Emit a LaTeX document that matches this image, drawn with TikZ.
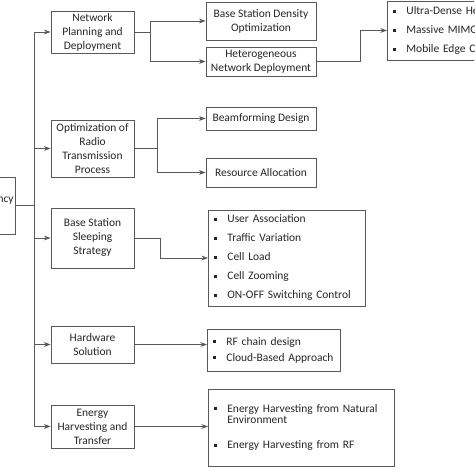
\documentclass[tikz,border=0pt]{standalone}
\usepackage{fontspec}
\setmainfont{Carlito}
\usepackage{tikz}
\usetikzlibrary{arrows.meta}
\colorlet{boxgray}{black!65}
\colorlet{textgray}{black!85}
\newcommand{\sqbul}{\makebox[10.5pt][l]{\hspace{0.4pt}\raisebox{0.35ex}{\rule{2.1pt}{2.1pt}}}}
\newcommand{\listfont}[1]{\fontsize{8.6}{#1}\selectfont}

\begin{document}
\begin{tikzpicture}[x=0.75pt,y=-0.75pt,
    every node/.style={text=textgray},
    catbox/.style={draw=boxgray, line width=0.6pt, align=center, minimum width=62.25pt,
        inner sep=1pt, font=\fontsize{8.6}{10.5}\selectfont},
    subbox/.style={draw=boxgray, line width=0.6pt, align=center, minimum width=82.5pt,
        inner sep=1pt, font=\fontsize{8.6}{10.5}\selectfont},
    listbox/.style={draw=boxgray, line width=0.6pt, align=left, anchor=west,
        inner xsep=3.75pt, inner ysep=0pt},
    link/.style={draw=boxgray, line width=0.6pt},
    arr/.style={link, -{Stealth[length=5pt,width=3.6pt]}}]
            \useasboundingbox (0,0) rectangle (474,474);
            \clip (0,0) rectangle (474,474);
            % root
            \node[catbox, anchor=east, text width=72pt, align=right, minimum height=42.75pt, inner xsep=1.5pt]
                (root) at (16,205.5) {Energy Efficiency\\ \mbox{}};
            % first level
            \node[catbox, minimum height=31.5pt] (netplan) at (92.5,32) {Network\\Planning and\\Deployment};
            \node[catbox, minimum height=42.75pt] (radio) at (92.5,148.5) {Optimization of\\Radio\\Transmission\\Process};
            \node[catbox, minimum height=45pt] (sleep) at (92.5,238) {Base Station\\Sleeping\\Strategy};
            \node[catbox, minimum height=27.75pt] (hardware) at (92.5,344.5) {Hardware\\Solution};
            \node[catbox, minimum height=32.25pt] (harvest) at (92.5,426.5) {Energy\\Harvesting and\\Transfer};
            % second level
            \node[subbox, minimum height=28.5pt] (density) at (261,21) {Base Station Density\\Optimization};
            \node[subbox, minimum height=21.75pt] (hetnet) at (261,61.5) {Heterogeneous\\Network Deployment};
            \node[subbox, minimum height=17.25pt] (beam) at (261,118.5) {Beamforming Design};
            \node[subbox, minimum height=21.75pt] (resalloc) at (261,172.5) {Resource Allocation};
            % bullet lists
            \node[listbox, text width=150pt, minimum height=44.25pt, font=\listfont{14.25}]
                (denselist) at (387,30.5) {\sqbul Ultra-Dense HetNets\\\sqbul Massive MIMO\\\sqbul Mobile Edge Computing};
            \node[listbox, text width=110.25pt, minimum height=72pt, font=\listfont{14.25}]
                (sleeplist) at (208,258) {\sqbul User Association\\\sqbul Traffic Variation\\\sqbul Cell Load\\\sqbul Cell Zooming\\\sqbul ON-OFF Switching Control};
            \node[listbox, text width=92.25pt, minimum height=31.5pt, font=\listfont{12}]
                (hwlist) at (207,350) {\sqbul RF chain design\\\sqbul Cloud-Based Approach};
            \node[listbox, text width=132pt, minimum height=57.75pt, font=\listfont{9}]
                (harvlist) at (208,427.5) {\sqbul Energy Harvesting from Natural\\\hspace*{10.5pt}Environment\\[9.75pt]\sqbul Energy Harvesting from RF};
            % trunk
            \coordinate (trunk) at (34,205.5);
            \draw[link] (root.east) -- (trunk);
            \draw[link] (netplan.west -| trunk) -- (harvest.west -| trunk);
            \foreach \n in {netplan,radio,sleep,hardware,harvest}{
                \draw[arr] (\n.west -| trunk) -- (\n.west);
            }
            % branches
            \foreach \n in {density,hetnet}{
                \draw[arr] (netplan.east) -- ++(16,0) |- (\n.west);
            }
            \foreach \n in {beam,resalloc}{
                \draw[arr] (radio.east) -- ++(23,0) |- (\n.west);
            }
            \draw[arr] (hetnet.east) -- ++(44,0) |- (denselist.west);
            \draw[arr] (sleep.east) -- ++(26,0) |- (sleeplist.west);
            \draw[arr] (hardware.east) -- (hardware.east -| hwlist.west);
            \draw[arr] (harvest.east) -- (harvest.east -| harvlist.west);
        \end{tikzpicture}
\end{document}
